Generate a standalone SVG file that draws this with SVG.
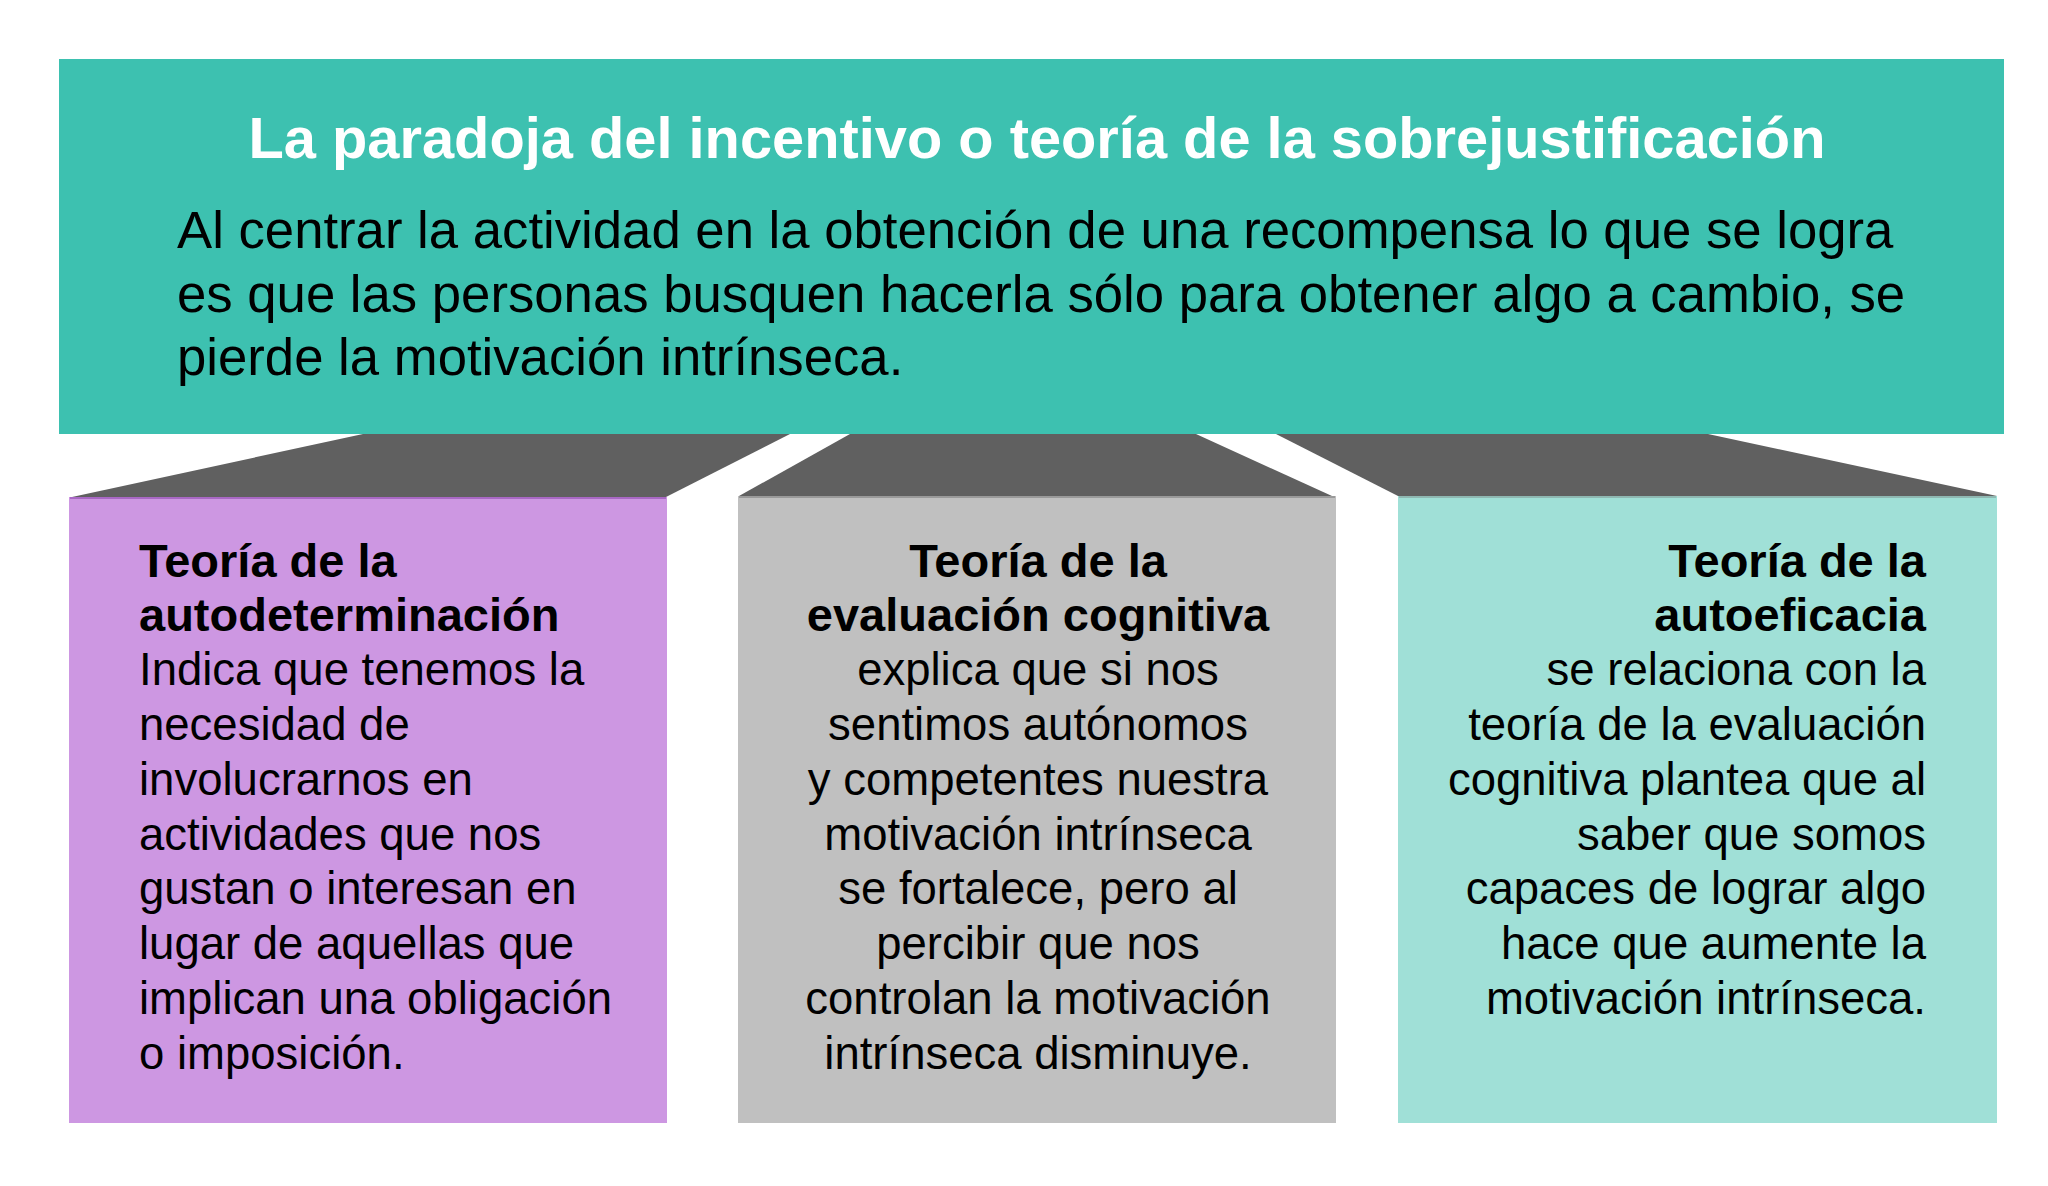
<svg xmlns="http://www.w3.org/2000/svg" width="2048" height="1186" viewBox="0 0 2048 1186">
<style>
.t{font-family:"Liberation Sans",Arial,sans-serif;fill:#000}
.title{font-family:"Liberation Sans",Arial,sans-serif;font-weight:bold;font-size:57.8px;fill:#fff}
.body{font-size:52.7px}
.bx{font-size:45.5px}
.b{font-weight:bold;font-size:47px}
.m{text-anchor:middle}
.e{text-anchor:end}
.conn{fill:#606060}
</style>
<rect width="2048" height="1186" fill="#fff"/>
<g id="connectors">
<polygon class="conn" points="363,434 790,434 666,497 72,497"/>
<polygon class="conn" points="850,434 1196,434 1332,496 739,496"/>
<polygon class="conn" points="1276,434 1708,434 1997,496 1398,496"/>
</g>
<g id="top">
<rect x="59" y="59" width="1945" height="375" fill="#3DC1B0"/>
<text class="title" x="1037" y="158" text-anchor="middle">La paradoja del incentivo o teoría de la sobrejustificación</text>
<text class="t body" x="177" y="248">Al centrar la actividad en la obtención de una recompensa lo que se logra</text>
<text class="t body" x="177" y="311.5">es que las personas busquen hacerla sólo para obtener algo a cambio, se</text>
<text class="t body" x="177" y="375">pierde la motivación intrínseca.</text>
</g>
<g id="box1">
<rect x="69" y="497" width="598" height="626" fill="#CD97E2"/>
<line x1="70" y1="498" x2="666" y2="498" stroke="#A868C4" stroke-width="2"/>
<text class="t b" x="139" y="577">Teoría de la</text>
<text class="t b" x="139" y="631">autodeterminación</text>
<text class="t bx" x="139" y="684.8">Indica que tenemos la</text>
<text class="t bx" x="139" y="739.7">necesidad de</text>
<text class="t bx" x="139" y="794.6">involucrarnos en</text>
<text class="t bx" x="139" y="849.5">actividades que nos</text>
<text class="t bx" x="139" y="904.4">gustan o interesan en</text>
<text class="t bx" x="139" y="959.3">lugar de aquellas que</text>
<text class="t bx" x="139" y="1014.2">implican una obligación</text>
<text class="t bx" x="139" y="1069.1">o imposición.</text>
</g>
<g id="box2">
<rect x="738" y="496" width="598" height="627" fill="#C0C0C0"/>
<line x1="739" y1="497" x2="1335" y2="497" stroke="#9A9A9A" stroke-width="2"/>
<text class="t b m" x="1038" y="577">Teoría de la</text>
<text class="t b m" x="1038" y="631">evaluación cognitiva</text>
<text class="t bx m" x="1038" y="684.8">explica que si nos</text>
<text class="t bx m" x="1038" y="739.7">sentimos autónomos</text>
<text class="t bx m" x="1038" y="794.6">y competentes nuestra</text>
<text class="t bx m" x="1038" y="849.5">motivación intrínseca</text>
<text class="t bx m" x="1038" y="904.4">se fortalece, pero al</text>
<text class="t bx m" x="1038" y="959.3">percibir que nos</text>
<text class="t bx m" x="1038" y="1014.2">controlan la motivación</text>
<text class="t bx m" x="1038" y="1069.1">intrínseca disminuye.</text>
</g>
<g id="box3">
<rect x="1398" y="496" width="599" height="627" fill="#A0E0D7"/>
<line x1="1399" y1="497" x2="1996" y2="497" stroke="#8FB8B2" stroke-width="2"/>
<text class="t b e" x="1926" y="577">Teoría de la</text>
<text class="t b e" x="1926" y="631">autoeficacia</text>
<text class="t bx e" x="1926" y="684.8">se relaciona con la</text>
<text class="t bx e" x="1926" y="739.7">teoría de la evaluación</text>
<text class="t bx e" x="1926" y="794.6">cognitiva plantea que al</text>
<text class="t bx e" x="1926" y="849.5">saber que somos</text>
<text class="t bx e" x="1926" y="904.4">capaces de lograr algo</text>
<text class="t bx e" x="1926" y="959.3">hace que aumente la</text>
<text class="t bx e" x="1926" y="1014.2">motivación intrínseca.</text>
</g>
</svg>
